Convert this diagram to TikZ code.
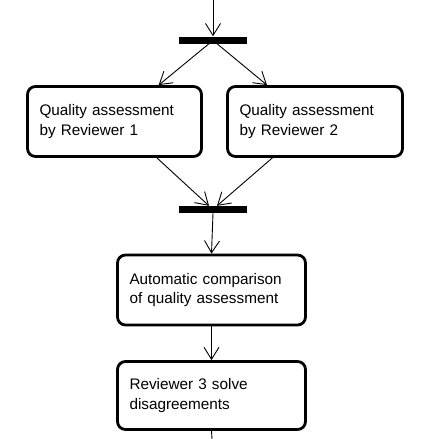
\documentclass[tikz,border=0pt]{standalone}
\usepackage{fontspec}
\setmainfont{Liberation Sans}
\usetikzlibrary{arrows.meta, positioning, calc}

\begin{document}
\begin{tikzpicture}[x=1pt, y=1pt, font=\fontsize{15.3}{19.5}\selectfont]
        \tikzset{
        block/.style = {draw, line width=2.8pt, rectangle, rounded corners=8pt, minimum height=70pt, inner xsep=12pt, align=left},
        bar/.style   = {fill=black, rectangle, minimum width=68pt, minimum height=7pt, inner sep=0pt},
        line/.style  = {line width=0.9pt, -{Straight Barb[length=12pt, width=15pt, line width=0.9pt]}}
        }
        \useasboundingbox (0,0) rectangle (439,-439);

        % Fork and the two reviewers
        \coordinate (start) at (213,0);
        \node[bar] (fork) at (213,-40) {};
        \node[block, text width=150pt] (rev1) at (114.5,-121.5) {Quality assessment\\by Reviewer 1};
        \node[block, text width=151pt] (rev2) at (315,-121.5) {Quality assessment\\by Reviewer 2};

        % Join and the rest
        \node[bar] (join) at (213,-209.5) {};
        \node[block, text width=164pt] (compare) at (211.5,-290) {Automatic comparison\\of quality assessment};
        \node[block, text width=164pt, minimum height=68pt] (rev3) at (211.5,-395.5) {Reviewer 3 solve\\disagreements};
        \coordinate (stop) at (212,-439);

        % Connections
        \draw[line] (start) -- (fork.north);
        \draw[line] ($(fork.south)+(-4,0)$) -- ($(rev1.north west)!0.75!(rev1.north east)$);
        \draw[line] ($(fork.south)+(4,0)$) -- ($(rev2.north west)!0.23!(rev2.north east)$);
        \draw[line] ($(rev1.south west)!0.74!(rev1.south east)$) -- ($(join.north)+(-4,0)$);
        \draw[line] ($(rev2.south west)!0.26!(rev2.south east)$) -- ($(join.north)+(4,0)$);
        \draw[line] (join.south) -- (compare.north);
        \draw[line] (compare.south) -- (rev3.north);
        \draw[line width=0.9pt] (rev3.south) -- (stop);
    \end{tikzpicture}
\end{document}
